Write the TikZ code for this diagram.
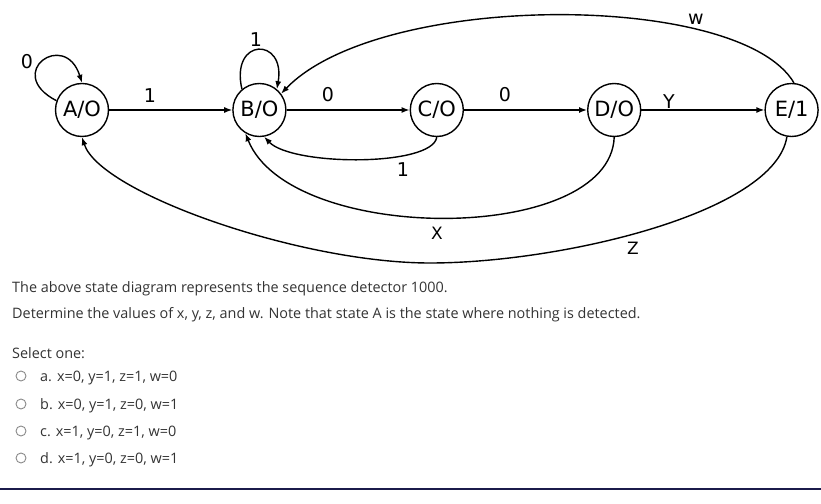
\documentclass[tikz,border=0pt]{standalone}
\usepackage{fontspec}
\setmainfont{Open Sans}
\newfontfamily\statefont{DejaVu Sans}
\usepackage{xcolor}
\usetikzlibrary{arrows.meta,positioning}

\definecolor{qtext}{HTML}{333333}
\definecolor{qline}{HTML}{1B1B4B}
\definecolor{qradio}{HTML}{8A8A8A}

\tikzset{
    state/.style={draw, circle, line width=1.4pt, minimum size=53pt, inner sep=0pt, font=\fontsize{21}{21}\statefont},
    trans/.style={line width=1.4pt, -{Latex[length=8pt,width=6pt]}},
    elabel/.style={inner sep=0pt, font=\fontsize{19}{19}\statefont},
    qtxt/.style={anchor=base west, inner sep=0pt, text=qtext, font=\fontsize{14.4}{17}\selectfont},
    radio/.style={draw=qradio, circle, line width=0.9pt, minimum size=10pt, inner sep=0pt}
}

\begin{document}
\begin{tikzpicture}[x=1pt,y=1pt]
\useasboundingbox (0,0) rectangle (821,503);

% States
\node[state] (A) at (82,393) {A/O};
\node[state, right=123pt of A] (B) {B/O};
\node[state, right=123pt of B] (C) {C/O};
\node[state, right=123pt of C] (D) {D/O};
\node[state, right=123pt of D] (E) {E/1};

% Straight transitions
\draw[trans] (A) -- (B);
\draw[trans] (B) -- (C);
\draw[trans] (C) -- (D);
\draw[trans] (D) -- (E);

% Self loops
\draw[trans] (A.160) .. controls (3,430) and (65,474) .. (A.north);
\draw[trans] (B.130) .. controls (230,466) and (286,466) .. (B.50);

% Back transitions
\draw[trans] (C.-90) .. controls (432,336) and (292,337) .. (B.-80);
\draw[trans] (D.south) .. controls (610,258) and (290,258) .. (B.-121);
\draw[trans] (E.-100) .. controls (775,290) and (560,240) .. (430,240)
                      .. controls (300,240) and (100,310) .. (A.south);
\draw[trans] (E.85) .. controls (740,512) and (380,512) .. (B.37);

% Transition labels
\node[elabel] (lA) at (27,441) {0};
\node[elabel] (lAB) at (150,407) {1};
\node[elabel] (lB) at (256,463) {1};
\node[elabel] (lBC) at (328,408) {0};
\node[elabel] (lCD) at (505,408) {0};
\node[elabel] (lDE) at (669,401) {Y};
\node[elabel] (lCB) at (403,333) {1};
\node[elabel, font=\fontsize{17}{17}\statefont] (lDB) at (437,270) {X};
\node[elabel, font=\fontsize{17}{17}\statefont] (lEA) at (633,255) {Z};
\node[elabel] (lEB) at (696,484) {w};

% Question text
\node[qtxt] (q1) at (12,210) {The above state diagram represents the sequence detector 1000.};
\node[qtxt] (q2) at (12,184) {Determine the values of x, y, z, and w. Note that state A is the state where nothing is detected.};
\node[qtxt] (sel) at (12,144) {Select one:};

% Options
\foreach \y/\opt [count=\i] in {127/{a. x=0, y=1, z=1, w=0},
                                99/{b. x=0, y=1, z=0, w=1},
                                72/{c. x=1, y=0, z=1, w=0},
                                45/{d. x=1, y=0, z=0, w=1}} {
    \node[radio] (r\i) at (21,\y) {};
    \node[qtxt] (o\i) at (40,\y-5.5) {\opt};
}

% Bottom rule
\draw[qline, line width=1.5pt] (0,14) -- (821,14);
\end{tikzpicture}
\end{document}
